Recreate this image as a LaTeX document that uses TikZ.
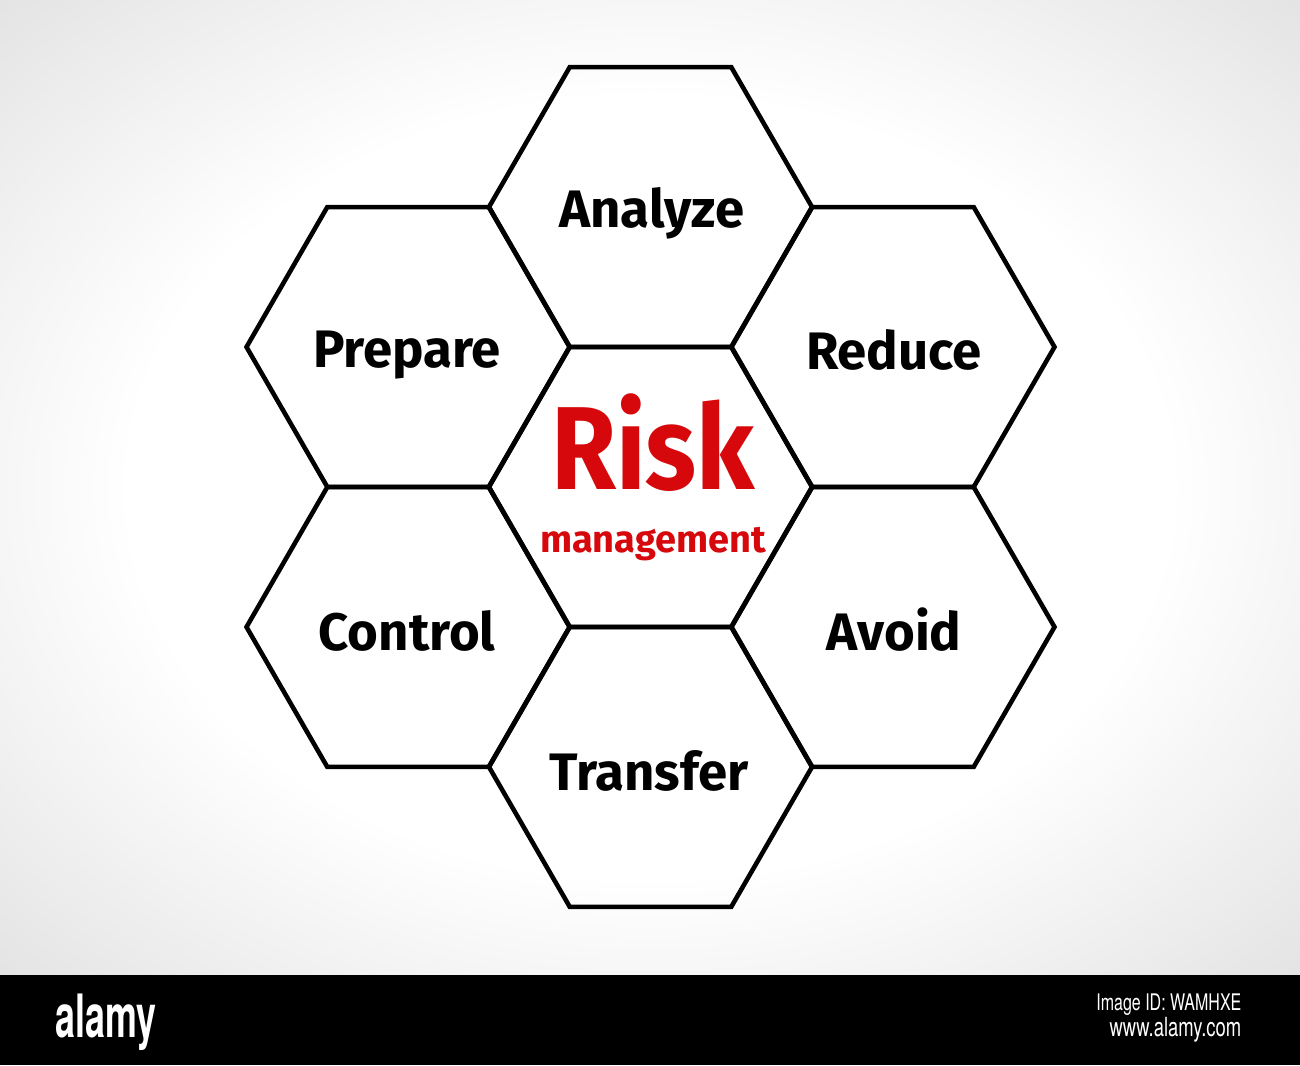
\documentclass[tikz,border=0pt]{standalone}
\usepackage{fontspec}
\setmainfont{Fira Sans}
\newfontfamily\barfont{TeX Gyre Heros}
\usepackage{tikz}
\usetikzlibrary{calc}
\definecolor{riskred}{RGB}{214,8,12}
\pgfdeclareradialshading{paper}{\pgfpoint{0bp}{0bp}}{color(0bp)=(white); color(20bp)=(white); color(50bp)=(black!21); color(72bp)=(black!28)}
\tikzset{hexline/.style={black, line width=1.3pt, line join=miter},
         word/.style={anchor=base, font=\fontsize{15}{15}\selectfont\bfseries},
         barword/.style={white, font=\barfont}}

\begin{document}
\begin{tikzpicture}
\useasboundingbox (0,0) rectangle (13,10.65);
\shade[shading=paper] (0,0.9) rectangle (13,10.65);
\fill[black] (0,0) rectangle (13,0.9);

% honeycomb
\def\r{1.615}
\foreach \x/\y in {6.505/5.78, 6.505/8.58, 4.08/7.18, 8.93/7.18, 4.08/4.38, 8.93/4.38, 6.505/2.98}
{
  \draw[hexline] (\x,\y) +(0:\r) -- +(60:\r) -- +(120:\r) -- +(180:\r) -- +(240:\r) -- +(300:\r) -- cycle;
}

\node[word] (analyze)  at (6.52,8.37) {Analyze};
\node[word] (prepare)  at (4.07,6.97) {Prepare};
\node[word] (reduce)   at (8.94,6.95) {Reduce};
\node[word] (control)  at (4.07,4.15) {Control};
\node[word] (avoid)    at (8.94,4.15) {Avoid};
\node[word] (transfer) at (6.49,2.75) {Transfer};

\node[anchor=base, text=riskred, yscale=1.12, font=\fontsize{30}{30}\selectfont\bfseries] (risk) at (6.53,5.75) {Risk};
\node[anchor=base, text=riskred, font=\fontsize{10.8}{10.8}\selectfont\bfseries] (mgmt) at (6.53,5.12) {management};

% bar
\node[barword, anchor=base west, font=\barfont\fontsize{17}{17}\selectfont\bfseries, xscale=0.6] (logo) at (0.48,0.28) {alamy};
\node[barword, anchor=base east, font=\barfont\fontsize{6.5}{6.5}\selectfont, xscale=0.7] (imgid) at (12.5,0.55) {Image ID: WAMHXE};
\node[barword, anchor=base east, font=\barfont\fontsize{7.5}{7.5}\selectfont, xscale=0.7] (site) at (12.5,0.29) {www.alamy.com};
\end{tikzpicture}
\end{document}
